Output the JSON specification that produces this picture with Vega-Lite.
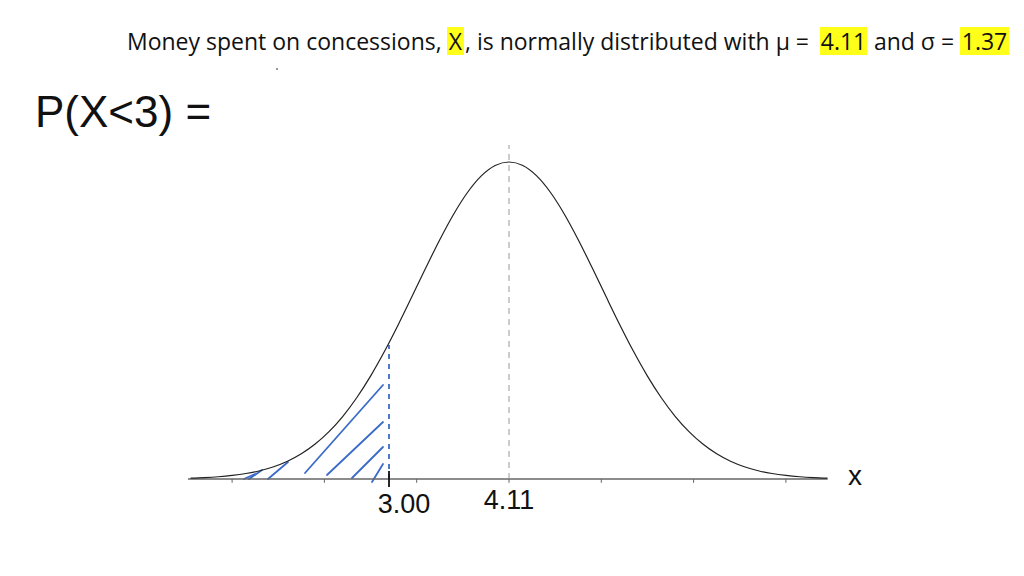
{
  "$schema": "https://vega.github.io/schema/vega-lite/v6.json",
  "width": 1024,
  "height": 576,
  "autosize": {"type": "fit", "contains": "padding"},
  "padding": 0,
  "background": "white",
  "config": {"view": {"stroke": null}},
  "datasets": {
    "curve": [
      {"x": -0.6165, "y": 0.00076}, {"x": -0.411, "y": 0.00126}, {"x": -0.2055, "y": 0.00204},
      {"x": 0.0, "y": 0.00324}, {"x": 0.2055, "y": 0.00502}, {"x": 0.411, "y": 0.00761},
      {"x": 0.6165, "y": 0.01128}, {"x": 0.822, "y": 0.01635}, {"x": 1.0275, "y": 0.02317},
      {"x": 1.233, "y": 0.03211}, {"x": 1.4385, "y": 0.0435}, {"x": 1.644, "y": 0.05763},
      {"x": 1.8495, "y": 0.07465}, {"x": 2.055, "y": 0.09454}, {"x": 2.2605, "y": 0.11707},
      {"x": 2.466, "y": 0.14174}, {"x": 2.6715, "y": 0.1678}, {"x": 2.877, "y": 0.19422},
      {"x": 3.0825, "y": 0.21981}, {"x": 3.288, "y": 0.24323}, {"x": 3.4935, "y": 0.26316},
      {"x": 3.699, "y": 0.27839}, {"x": 3.9045, "y": 0.28794}, {"x": 4.11, "y": 0.2912},
      {"x": 4.3155, "y": 0.28794}, {"x": 4.521, "y": 0.27839}, {"x": 4.7265, "y": 0.26316},
      {"x": 4.932, "y": 0.24323}, {"x": 5.1375, "y": 0.21981}, {"x": 5.343, "y": 0.19422},
      {"x": 5.5485, "y": 0.1678}, {"x": 5.754, "y": 0.14174}, {"x": 5.9595, "y": 0.11707},
      {"x": 6.165, "y": 0.09454}, {"x": 6.3705, "y": 0.07465}, {"x": 6.576, "y": 0.05763},
      {"x": 6.7815, "y": 0.0435}, {"x": 6.987, "y": 0.03211}, {"x": 7.1925, "y": 0.02317},
      {"x": 7.398, "y": 0.01635}, {"x": 7.6035, "y": 0.01128}, {"x": 7.809, "y": 0.00761},
      {"x": 8.0145, "y": 0.00502}, {"x": 8.22, "y": 0.00324}, {"x": 8.4255, "y": 0.00204},
      {"x": 8.631, "y": 0.00126}, {"x": 8.8365, "y": 0.00076}
    ],
    "axisline": [{"x": -0.655, "x2": 8.84, "y": 0}],
    "ticks": [
      {"x": 0.0, "y": 0, "y2": -0.0035}, {"x": 1.37, "y": 0, "y2": -0.0035},
      {"x": 2.74, "y": 0, "y2": -0.0035}, {"x": 4.11, "y": 0, "y2": -0.0035},
      {"x": 5.48, "y": 0, "y2": -0.0035}, {"x": 6.85, "y": 0, "y2": -0.0035},
      {"x": 8.22, "y": 0, "y2": -0.0035}
    ],
    "meanline": [{"x": 4.11, "y": 0, "y2": 0.3068}],
    "cutline": [{"x": 2.3288, "y": 0, "y2": 0.1231}],
    "cuttick": [{"x": 2.3288, "y": 0.00735, "y2": -0.00735}],
    "hatch": [
      {"x": 2.2398, "y": 0.08635, "x2": 1.082, "y2": 0.00551},
      {"x": 2.2398, "y": 0.05236, "x2": 1.4085, "y2": 0.00367},
      {"x": 2.2398, "y": 0.0294, "x2": 1.7796, "y2": 0.00092},
      {"x": 2.2398, "y": 0.01378, "x2": 2.0765, "y2": -0.00276},
      {"x": 0.8297, "y": 0.01562, "x2": 0.5328, "y2": 0.0},
      {"x": 0.4438, "y": 0.00827, "x2": 0.2508, "y2": 0.0},
      {"x": 0.3399, "y": 0.00459, "x2": 0.1766, "y2": 0.0}
    ],
    "highlights": [
      {"x": 3.1897, "x2": 3.442, "y": 0.41521, "y2": 0.3895},
      {"x": 8.7261, "x2": 9.4238, "y": 0.41521, "y2": 0.3895},
      {"x": 10.8042, "x2": 11.5315, "y": 0.41521, "y2": 0.3895}
    ],
    "titleLeft": [
      {"x": -1.5601, "y": 0.39409, "text": "Money spent on concessions,"},
      {"x": 3.4569, "y": 0.39409, "text": ", is normally distributed with μ ="}
    ],
    "titleCenter": [
      {"x": 3.3159, "y": 0.39409, "text": "X"},
      {"x": 9.0749, "y": 0.39409, "text": "4.11"},
      {"x": 10.1214, "y": 0.39409, "text": "and σ ="},
      {"x": 11.1678, "y": 0.39409, "text": "1.37"}
    ],
    "prob": [{"x": -2.9256, "y": 0.32335, "text": "P(X<3) ="}],
    "handlabels": [
      {"x": 2.5515, "y": -0.03123, "text": "3.00"},
      {"x": 4.11, "y": -0.02756, "text": "4.11"}
    ],
    "xlabel": [{"x": 9.2456, "y": -0.00551, "text": "x"}],
    "dot": [{"x": 0.6664, "y": 0.37663}]
  },
  "encoding": {
    "x": {"field": "x", "type": "quantitative", "scale": {"domain": [-3.4451, 11.7541], "nice": false, "zero": false}, "axis": null},
    "y": {"field": "y", "type": "quantitative", "scale": {"domain": [-0.08911, 0.44001], "nice": false, "zero": false}, "axis": null}
  },
  "layer": [
    {"data": {"name": "highlights"}, "mark": {"type": "rect", "color": "#ffff1a"},
     "encoding": {"x2": {"field": "x2"}, "y2": {"field": "y2"}}},
    {"data": {"name": "hatch"}, "mark": {"type": "rule", "color": "#3b6bc9", "strokeWidth": 1.8, "strokeCap": "round"},
     "encoding": {"x2": {"field": "x2"}, "y2": {"field": "y2"}}},
    {"data": {"name": "axisline"}, "mark": {"type": "rule", "color": "#666666", "strokeWidth": 1.5},
     "encoding": {"x2": {"field": "x2"}}},
    {"data": {"name": "ticks"}, "mark": {"type": "rule", "color": "#666666", "strokeWidth": 1},
     "encoding": {"y2": {"field": "y2"}}},
    {"data": {"name": "meanline"}, "mark": {"type": "rule", "color": "#999999", "strokeWidth": 1, "strokeDash": [6, 5]},
     "encoding": {"y2": {"field": "y2"}}},
    {"data": {"name": "cutline"}, "mark": {"type": "rule", "color": "#3b6bc9", "strokeWidth": 1.8, "strokeDash": [5, 5]},
     "encoding": {"y2": {"field": "y2"}}},
    {"data": {"name": "cuttick"}, "mark": {"type": "rule", "color": "#111111", "strokeWidth": 1.8},
     "encoding": {"y2": {"field": "y2"}}},
    {"data": {"name": "curve"}, "mark": {"type": "line", "color": "#222222", "strokeWidth": 1.2, "interpolate": "monotone"},
     "encoding": {}},
    {"data": {"name": "titleLeft"}, "mark": {"type": "text", "align": "left", "baseline": "alphabetic", "font": "Open Sans", "fontSize": 23, "color": "#111111"},
     "encoding": {"text": {"field": "text"}}},
    {"data": {"name": "titleCenter"}, "mark": {"type": "text", "align": "center", "baseline": "alphabetic", "font": "Open Sans", "fontSize": 23, "color": "#111111"},
     "encoding": {"text": {"field": "text"}}},
    {"data": {"name": "prob"}, "mark": {"type": "text", "align": "left", "baseline": "alphabetic", "font": "Liberation Sans", "fontSize": 44, "color": "#111111"},
     "encoding": {"text": {"field": "text"}}},
    {"data": {"name": "handlabels"}, "mark": {"type": "text", "align": "center", "baseline": "alphabetic", "font": "Liberation Sans", "fontSize": 27, "color": "#111111"},
     "encoding": {"text": {"field": "text"}}},
    {"data": {"name": "xlabel"}, "mark": {"type": "text", "align": "center", "baseline": "alphabetic", "font": "Liberation Sans", "fontSize": 28, "color": "#111111"},
     "encoding": {"text": {"field": "text"}}},
    {"data": {"name": "dot"}, "mark": {"type": "circle", "color": "#777777", "size": 4, "opacity": 1},
     "encoding": {}}
  ]
}
